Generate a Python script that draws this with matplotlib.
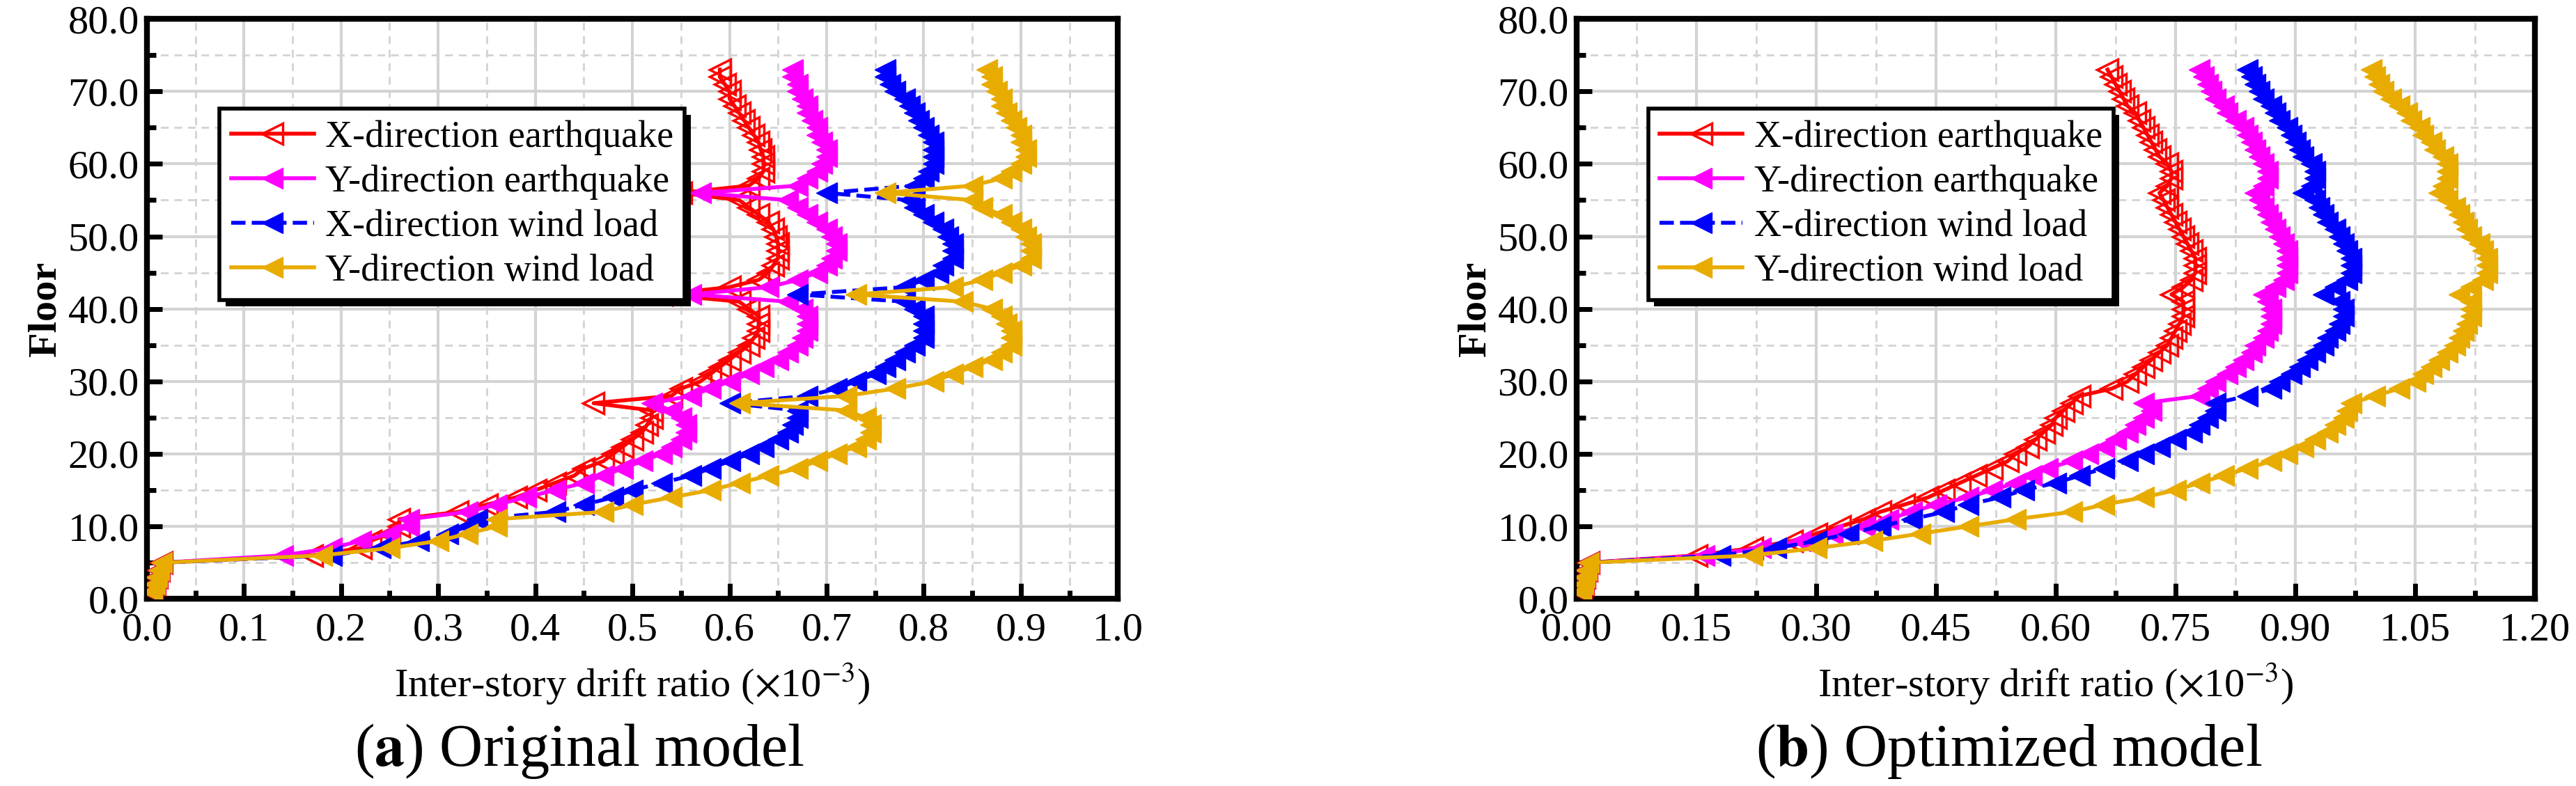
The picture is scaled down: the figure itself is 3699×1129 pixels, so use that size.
import numpy as np
import matplotlib
matplotlib.use("Agg")
import matplotlib.pyplot as plt
from matplotlib.ticker import MultipleLocator, FormatStrFormatter
import matplotlib.patheffects as pe

plt.rcParams['font.family'] = ['Liberation Serif', 'DejaVu Serif']
plt.rcParams['mathtext.fontset'] = 'stix'

floors = np.arange(1, 74)
small = [0.005, 0.008, 0.01, 0.012, 0.015]

a_xeq = small + [0.17,0.22,0.23,0.25,0.26, 0.26,0.32,0.35,0.38,0.40, 0.42,0.44,0.45,0.47,0.48,
    0.49,0.50,0.51,0.515,0.52, 0.52,0.46,0.54,0.55,0.57, 0.58,0.59,0.60,0.61,0.62,
    0.625,0.63,0.63,0.63,0.62, 0.61,0.53,0.60,0.63,0.64, 0.645,0.65,0.65,0.65,0.648,
    0.645,0.64,0.63,0.62,0.61, 0.55,0.62,0.63,0.635,0.635, 0.635,0.632,0.63,0.625,0.62,
    0.615,0.61,0.605,0.60,0.60, 0.595,0.59,0.59]
a_yeq = small + [0.14,0.19,0.22,0.25,0.27, 0.27,0.33,0.36,0.39,0.42, 0.45,0.47,0.49,0.51,0.53,
    0.54,0.55,0.555,0.555,0.55, 0.54,0.52,0.56,0.58,0.60, 0.62,0.635,0.65,0.66,0.67,
    0.675,0.68,0.68,0.68,0.675, 0.66,0.56,0.64,0.67,0.69, 0.70,0.705,0.71,0.71,0.705,
    0.70,0.69,0.68,0.67,0.66, 0.57,0.67,0.68,0.69,0.695, 0.70,0.70,0.695,0.69,0.69,
    0.685,0.68,0.68,0.675,0.67, 0.67,0.665,0.665]
a_xw = small + [0.19,0.24,0.28,0.31,0.33, 0.34,0.42,0.45,0.48,0.50, 0.53,0.56,0.58,0.60,0.62,
    0.635,0.65,0.66,0.665,0.67, 0.67,0.60,0.68,0.71,0.73, 0.75,0.76,0.77,0.78,0.79,
    0.80,0.80,0.80,0.80,0.79, 0.78,0.67,0.78,0.80,0.815, 0.82,0.83,0.83,0.83,0.825,
    0.82,0.81,0.80,0.79,0.785, 0.70,0.79,0.80,0.805,0.81, 0.81,0.81,0.81,0.805,0.80,
    0.795,0.79,0.785,0.78,0.77, 0.765,0.76,0.76]
a_yw = small + [0.18,0.25,0.30,0.33,0.36, 0.36,0.47,0.50,0.54,0.58, 0.61,0.64,0.67,0.69,0.71,
    0.73,0.74,0.745,0.745,0.74, 0.72,0.61,0.72,0.77,0.81, 0.83,0.85,0.87,0.88,0.89,
    0.89,0.89,0.885,0.88,0.87, 0.84,0.73,0.83,0.86,0.88, 0.90,0.91,0.91,0.91,0.905,
    0.90,0.89,0.88,0.86,0.85, 0.76,0.85,0.88,0.89,0.90, 0.905,0.905,0.90,0.90,0.895,
    0.89,0.885,0.88,0.88,0.875, 0.87,0.87,0.865]

b_xeq = small + [0.15,0.22,0.27,0.30,0.33, 0.36,0.38,0.41,0.44,0.46, 0.48,0.50,0.52,0.54,0.55,
    0.565,0.575,0.585,0.595,0.60, 0.61,0.62,0.63,0.67,0.69, 0.70,0.71,0.72,0.73,0.74,
    0.745,0.75,0.755,0.76,0.76, 0.76,0.745,0.76,0.77,0.775, 0.775,0.775,0.77,0.765,0.76,
    0.755,0.75,0.745,0.74,0.735, 0.73,0.74,0.745,0.745,0.74, 0.73,0.725,0.72,0.715,0.71,
    0.705,0.70,0.69,0.685,0.68, 0.675,0.67,0.665]
b_yeq = small + [0.16,0.23,0.28,0.32,0.36, 0.39,0.42,0.45,0.49,0.52, 0.55,0.57,0.59,0.62,0.64,
    0.66,0.675,0.69,0.70,0.71, 0.72,0.71,0.78,0.79,0.80, 0.815,0.825,0.835,0.845,0.85,
    0.86,0.865,0.87,0.87,0.87, 0.865,0.86,0.875,0.885,0.89, 0.89,0.89,0.89,0.885,0.88,
    0.875,0.87,0.865,0.86,0.855, 0.85,0.86,0.865,0.865,0.86, 0.855,0.85,0.845,0.84,0.835,
    0.825,0.815,0.81,0.80,0.795, 0.79,0.785,0.78]
b_xw = small + [0.18,0.25,0.30,0.34,0.38, 0.42,0.46,0.49,0.53,0.56, 0.60,0.63,0.66,0.69,0.71,
    0.73,0.75,0.77,0.78,0.79, 0.80,0.80,0.84,0.87,0.88, 0.895,0.905,0.915,0.925,0.935,
    0.94,0.95,0.955,0.96,0.96, 0.955,0.935,0.95,0.965,0.97, 0.97,0.97,0.965,0.96,0.955,
    0.95,0.94,0.935,0.93,0.925, 0.91,0.92,0.925,0.925,0.92, 0.91,0.905,0.90,0.895,0.89,
    0.88,0.875,0.87,0.86,0.855, 0.85,0.845,0.84]
b_yw = small + [0.22,0.30,0.37,0.43,0.49, 0.55,0.62,0.66,0.71,0.75, 0.78,0.81,0.84,0.87,0.89,
    0.91,0.925,0.94,0.95,0.96, 0.965,0.97,1.00,1.03,1.05, 1.06,1.07,1.08,1.09,1.10,
    1.105,1.11,1.115,1.12,1.12, 1.12,1.105,1.12,1.135,1.14, 1.14,1.14,1.135,1.13,1.12,
    1.115,1.11,1.105,1.10,1.09, 1.08,1.085,1.09,1.09,1.09, 1.085,1.075,1.07,1.06,1.055,
    1.045,1.04,1.03,1.02,1.01, 1.005,1.0,0.995]

labels = ['X-direction earthquake', 'Y-direction earthquake',
          'X-direction wind load', 'Y-direction wind load']
colors = ['#ff0000', '#ff00ff', '#0000ff', '#e8ac00']
styles = ['-', '-', '--', '-']

fig = plt.figure(figsize=(36.99, 11.29), dpi=100)
ax1 = fig.add_axes([0.057, 0.238, 0.377, 0.738])
ax2 = fig.add_axes([0.612, 0.238, 0.372, 0.738])

def draw(ax, series, xmax, xmaj, fmt):
    for i, (vals, lab) in enumerate(zip(series, labels)):
        kw = dict(color=colors[i], ls=styles[i], lw=4, marker='<', ms=22,
                  label=lab, zorder=3)
        if i == 0:
            kw.update(markerfacecolor='none', markeredgewidth=2.5)
        else:
            kw.update(markeredgewidth=1)
        ax.plot(vals, floors, **kw)
    ax.set_xlim(0, xmax)
    ax.set_ylim(0, 80)
    ax.xaxis.set_major_locator(MultipleLocator(xmaj))
    ax.xaxis.set_minor_locator(MultipleLocator(xmaj / 2))
    ax.yaxis.set_major_locator(MultipleLocator(10))
    ax.yaxis.set_minor_locator(MultipleLocator(5))
    ax.xaxis.set_major_formatter(FormatStrFormatter(fmt))
    ax.yaxis.set_major_formatter(FormatStrFormatter('%.1f'))
    ax.grid(which='major', color='#d3d3d3', lw=3, ls='-', zorder=0)
    ax.grid(which='minor', color='#d3d3d3', lw=2, ls=(0, (4, 3)), zorder=0)
    ax.set_axisbelow(True)
    for s in ax.spines.values():
        s.set_linewidth(6)
    ax.tick_params(which='major', direction='in', length=16, width=5, labelsize=42)
    ax.tick_params(axis='x', which='major', pad=14)
    ax.tick_params(axis='y', which='major', pad=8)
    ax.tick_params(which='minor', direction='in', length=9, width=5)
    ax.set_xlabel(r'Inter-story drift ratio ($\times$10$^{-3}$)', fontsize=42, labelpad=14)
    ax.set_ylabel('Floor', fontsize=42, fontweight='bold', labelpad=4)
    leg = ax.legend(loc='upper left', bbox_to_anchor=(0.075, 0.845), fontsize=39,
                    frameon=True, fancybox=False, shadow=False, handlelength=2.2,
                    borderpad=0.3, labelspacing=0.25, handletextpad=0.3,
                    borderaxespad=0)
    fr = leg.get_frame()
    fr.set_edgecolor('black'); fr.set_linewidth(4); fr.set_alpha(1)
    fr.set_path_effects([pe.SimplePatchShadow(offset=(6, -6), shadow_rgbFace='black', alpha=1),
                         pe.Normal()])

draw(ax1, [a_xeq, a_yeq, a_xw, a_yw], 1.0, 0.1, '%.1f')
draw(ax2, [b_xeq, b_yeq, b_xw, b_yw], 1.2, 0.15, '%.2f')

fig.text(0.225, 0.044, r'($\mathbf{a}$) Original model', fontsize=62, ha='center', va='center')
fig.text(0.78, 0.044, r'($\mathbf{b}$) Optimized model', fontsize=62, ha='center', va='center')

fig.savefig('out.png', dpi=100)
